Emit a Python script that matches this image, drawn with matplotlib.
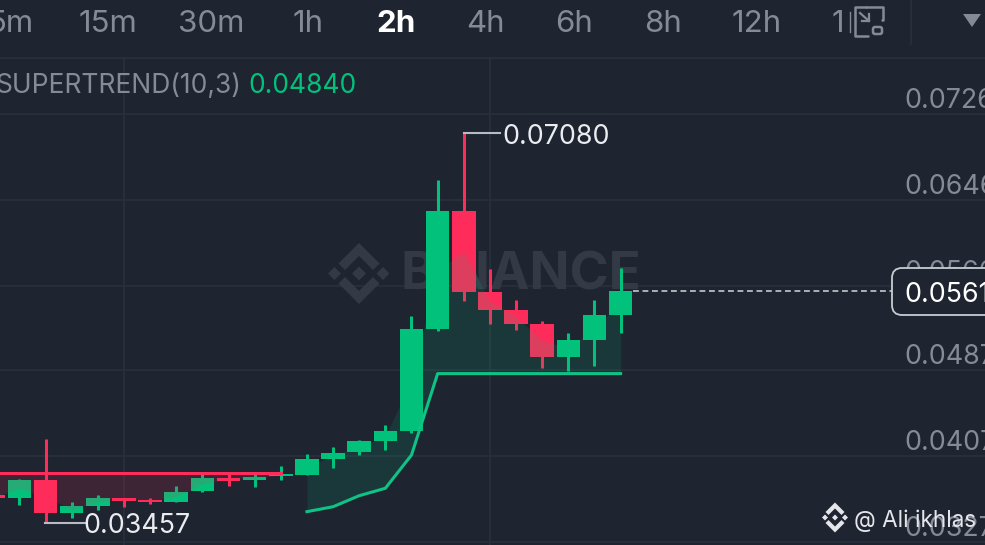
import matplotlib
matplotlib.use("Agg")
import matplotlib.pyplot as plt
import numpy as np
from matplotlib.patches import Polygon, FancyBboxPatch, Rectangle
from matplotlib.transforms import Affine2D

W, H = 985, 545
BG = "#1e2430"; GRID = "#2a303b"; GREEN = "#02c27b"; RED = "#fd2c5a"
GRAY = "#848b97"; WHITE = "#eaecef"
FONT = "Inter"

# index 0 is the first candle fully in view; the first list item is index -1
opens = [.03704,.03683,.03848,.03536,.03608,.03680,.03666,.03646,.03746,.03871,.03848,.03886,
         .03895,.04047,.04107,.04209,.04305,.05253,.06356,.05601,.05433,.05305,.04995,.05151,.05387]
closes = [.03680,.03848,.03541,.03606,.03683,.03652,.03643,.03739,.03870,.03843,.03879,.03904,
          .04041,.04103,.04209,.04305,.05253,.06356,.05601,.05433,.05305,.04995,.05151,.05387,.05610]
highs = [.03704,.03862,.04230,.03643,.03708,.03680,.03680,.03792,.03904,.03904,.03904,.03979,
         .04091,.04153,.04221,.04361,.05380,.06645,.07080,.05813,.05526,.05333,.05222,.05524,.05822]
lows = [.03680,.03615,.03457,.03494,.03568,.03599,.03629,.03643,.03736,.03792,.03783,.03851,
        .03895,.03957,.04081,.04128,.04287,.05235,.05514,.05303,.05247,.04892,.04867,.04914,.05222]
st_red = [.03916] * 12
st_green = [.03553,.03599,.03702,.03771,.04081,.04840,.04840,.04840,.04840,.04840,.04840,.04840,.04840]
axis_labels = ["0.0726","0.0646","0.0566","0.0487","0.0407","0.0327"]
tabs = ["5m","15m","30m","1h","2h","4h","6h","8h","12h","1"]
tab_x = [11,108,211,308,396,485,574,663,757,838]
last_price = "0.0561"

fig = plt.figure(figsize=(W/100, H/100), dpi=100, facecolor=BG)
ax = fig.add_axes([0,0,1,1], facecolor=BG)
step = 26.14; x0 = 19.4
ax.set_xlim(-x0/step, (W-x0)/step)
ytop = .083227; ybot = ytop - H*.00009322
ax.set_ylim(ybot, ytop)
ax.axis("off")
px = Affine2D().scale(1, -1).translate(0, H)

def T(s, x, y, **k):
    k.setdefault("family", FONT)
    return ax.text(x, y, s, transform=px, clip_on=False, **k)

for p in axis_labels:
    ax.axhline(float(p), color=GRID, lw=1.3, zorder=1)
ax.plot([0, W], [58, 58], color=GRID, lw=1.3, transform=px, zorder=1)
for x in (123.5, 490):
    ax.plot([x, x], [58, H], color=GRID, lw=1.2, transform=px, zorder=1)
ax.plot([911, 911], [0, 44], color=GRID, lw=1.2, transform=px, zorder=1)

# watermark
WM = "#333a46"
def diamond(cx, cy, r):
    ax.add_patch(Polygon([(cx-r,cy),(cx,cy-r),(cx+r,cy),(cx,cy+r)], fc=WM, ec="none", transform=px, zorder=1.5))
def chevron(cx, cy, up, r=20.5, t=6.5, col=WM, z=1.5, sc=1.0):
    s = -1 if up else 1
    r *= sc; t *= sc
    pts = [(cx-r,cy),(cx,cy+s*r),(cx+r,cy),(cx+r-t,cy-s*t),(cx,cy+s*(r-2*t)),(cx-r+t,cy-s*t)]
    ax.add_patch(Polygon(pts, fc=col, ec="none", transform=px, zorder=z))
diamond(359, 273.5, 7); diamond(334.5, 273.5, 6.5); diamond(383, 273.5, 6.5)
chevron(359, 263.5, True); chevron(359, 283.5, False)
T("BINANCE", 401, 276, fontsize=38, color=WM, va="center", ha="left", fontweight="bold", zorder=1.5)

# candles
idx = np.arange(-1, len(opens)-1)
for i, o, c, h, l in zip(idx, opens, closes, highs, lows):
    col = GREEN if c >= o else RED
    ax.vlines(i, l, h, color=col, lw=2.2, zorder=3)
    ax.bar(i, abs(c-o), bottom=min(o, c), width=.9, color=col, zorder=3, lw=0)

# supertrend fill and lines
mid = (np.array(opens) + np.array(closes)) / 2
ax.fill_between(idx[:12], st_red, mid[:12], color=RED, alpha=.14, lw=0, zorder=4)
ax.fill_between(idx[12:], st_green, mid[12:], color=GREEN, alpha=.12, lw=0, zorder=4)
ax.plot(idx[:12], st_red, color=RED, lw=2.2, zorder=5)
ax.plot(idx[12:], st_green, color="#0fc285", lw=2.2, zorder=5, solid_joinstyle="round")

# extreme labels
ax.plot([464.4, 500], [133, 133], color="#b8bcc4", lw=1.5, transform=px, zorder=5)
ax.plot([45.4, 85], [522.5, 522.5], color="#b8bcc4", lw=1.5, transform=px, zorder=5)
T("0.07080", 502, 137, fontsize=19.3, color=WHITE, va="center", zorder=6)
T("0.03457", 83, 526, fontsize=19.3, color=WHITE, va="center", zorder=6)

# header
for s, x in zip(tabs, tab_x):
    act = s == "2h"
    T(s, x, 24, fontsize=22.5, color="#ffffff" if act else GRAY, ha="center", va="center",
      fontweight="bold" if act else "normal")
T("SUPERTREND(10,3)", -5, 86, fontsize=19, color=GRAY, va="center")
T("0.04840", 248, 86, fontsize=19, color=GREEN, va="center")

# expand icon
ax.add_patch(Rectangle((851, 0), 40, 44, fc=BG, ec="none", transform=px, zorder=6))
ax.plot([849.5, 849.5], [12, 32], color=GRAY, lw=1, transform=px, zorder=7)
ax.plot([868, 855, 855, 866], [36, 36, 7, 7], color=GRAY, lw=1.8, transform=px, zorder=7, solid_capstyle="round")
ax.plot([866, 883, 883, 882], [7, 7, 20, 20], color=GRAY, lw=1.8, transform=px, zorder=7, solid_capstyle="round")
ax.add_patch(FancyBboxPatch((873, 27), 9, 7, boxstyle="round,pad=0,rounding_size=2", fc="none", ec=GRAY, lw=1.8, transform=px, zorder=7))
ax.plot([860, 869], [13, 21], color=GRAY, lw=1.6, transform=px, zorder=7)
ax.plot([869, 869, 862], [14, 21, 21], color=GRAY, lw=1.6, transform=px, zorder=7)
ax.add_patch(Polygon([(963,14),(981,14),(972,27)], fc=GRAY, ec="none", transform=px, zorder=7))

# axis labels
for p in axis_labels:
    T(p, 904, 114 + (.0726-float(p))/.00009322 - 13, fontsize=19.3, color=GRAY, va="center", zorder=6)

# last price
ax.plot([633, 892], [291, 291], color="#c4c8ce", lw=1.2, ls=(0, (3.5, 2.2)), transform=px, zorder=5)
ax.add_patch(FancyBboxPatch((892, 268), 140, 47, boxstyle="round,pad=0,rounding_size=10",
                            fc=BG, ec="#c8ccd2", lw=1.3, transform=px, zorder=6.5, clip_on=False))
T(last_price, 904, 295, fontsize=19.3, color="#ffffff", va="center", zorder=7)

# footer
LOGO = "#e4e6ea"
chevron(835, 512, True, r=9.5, t=3, col=LOGO, z=8)
chevron(835, 523, False, r=9.5, t=3, col=LOGO, z=8)
for cx, cy, r in [(835, 517.5, 3), (825, 517.5, 3), (845, 517.5, 3)]:
    ax.add_patch(Polygon([(cx-r,cy),(cx,cy-r),(cx+r,cy),(cx,cy+r)], fc=LOGO, ec="none", transform=px, zorder=8))
T("@ Ali ikhlas", 854, 521, fontsize=16.2, color="#e4e6ea", va="center", zorder=8)

fig.savefig("out.png", dpi=100, facecolor=BG)
